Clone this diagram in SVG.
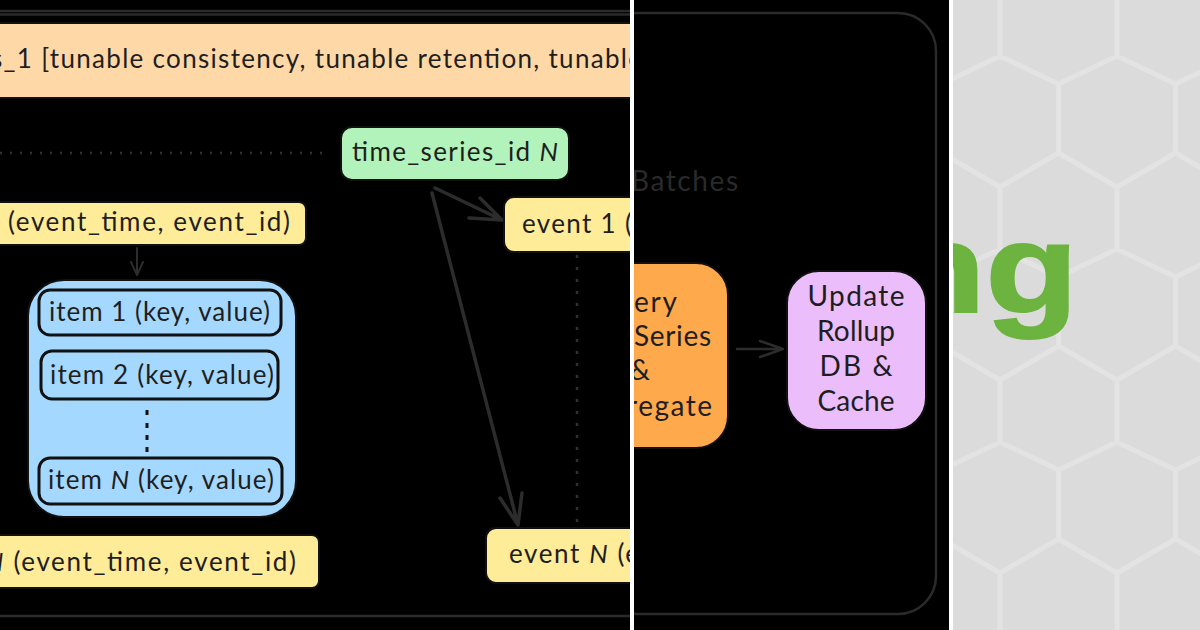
<svg xmlns="http://www.w3.org/2000/svg" width="1200" height="630" viewBox="0 0 1200 630">
<style>
text{font-family:"Lato","Noto Sans",sans-serif;fill:#1e1e1e;font-size:26px}
.n{stroke:#111;stroke-width:2;stroke-linejoin:round}
.b{stroke:#111;stroke-width:3;stroke-linejoin:round}
.c{fill:none;stroke:#2c2c2c;stroke-width:3.500;stroke-linecap:round;stroke-linejoin:round}
.d{fill:none;stroke:#303030;stroke-width:2.5}
.f{fill:none;stroke:#2a2a2a;stroke-width:2.5}
.i{font-style:italic}
.m{text-anchor:middle}
.l{font-size:28px}
</style>
<defs>
<pattern id="hex" width="117" height="193" patternUnits="userSpaceOnUse" patternTransform="translate(1000 56)">
<path d="M-10-5L0 0L58.500 28L117 0L127-5M58.500 28V97M-10 136L0 131L58.500 97L117 131L127 136M0 131V193M117 131V193M0 0V-5M117 0V-5" fill="none" stroke="#e3e3e3" stroke-width="5"/>
</pattern>
<clipPath id="cl"><rect x="0" y="0" width="630" height="630"/></clipPath>
<clipPath id="cr"><rect x="634" y="0" width="315" height="630"/></clipPath>
<clipPath id="cg"><rect x="953" y="0" width="247" height="630"/></clipPath>
</defs>
<rect width="1200" height="630" fill="#000"/>
<g id="backdrop" clip-path="url(#cg)">
<rect x="949" y="0" width="251" height="630" fill="#dbdbdb"/>
<rect x="949" y="0" width="251" height="630" fill="url(#hex)"/>
<text x="893" y="312" textLength="185" lengthAdjust="spacingAndGlyphs" style="font-family:'Liberation Sans',sans-serif;font-weight:700;font-size:126px;fill:#6cb33f;stroke:#6cb33f;stroke-width:2">ng</text>
</g>
<g id="frames">
<path class="f" d="M0 11H630M0 14.500H630M0 616H630"/>
<rect class="f" x="600" y="13" width="336" height="601" rx="38" clip-path="url(#cr)"/>
</g>
<g id="connectors">
<path class="d" stroke-dasharray="2 8" d="M0 153H330"/>
<path class="d" stroke-dasharray="3 9" d="M577 255V522"/>
<path class="c" d="M435 188L502 220M480 198L502 220L469 218"/>
<path class="c" d="M432 193L518 525M500 498L518 525L522 493"/>
<path class="c" style="stroke-width:2" d="M137 248V275M131 262L137 275L143 262"/>
<path class="c" style="stroke-width:2.500" d="M737 349H783M760 341L783 349L760 357"/>
</g>
<g clip-path="url(#cl)">
<g id="partition-header">
<rect class="n" x="-10" y="23" width="660" height="75" fill="#ffd8a8"/>
<text x="-9" y="68" textLength="651">s_1 [tunable consistency, tunable retention, tunable</text>
</g>
<g id="time-series-id-n">
<rect class="n" x="341" y="127" width="228" height="53" rx="11" fill="#b2f2bb"/>
<text x="352" y="161" textLength="206">time_series_id <tspan class="i">N</tspan></text>
</g>
<g id="event-top-left">
<rect class="n" x="-10" y="202" width="316" height="43" rx="7" fill="#ffec99"/>
<text x="8" y="231" textLength="282">(event_time, event_id)</text>
</g>
<g id="items">
<rect class="n" x="28" y="280" width="268" height="237" rx="36" fill="#a5d8ff"/>
</g>
<g id="item-1">
<rect class="b" x="39" y="290" width="242" height="45" rx="11" fill="#a5d8ff"/>
<text x="49" y="321" textLength="221">item 1 (key, value)</text>
</g>
<g id="item-2">
<rect class="b" x="41" y="351" width="237" height="48" rx="11" fill="#a5d8ff"/>
<text x="50" y="384" textLength="224">item 2 (key, value)</text>
</g>
<g id="item-dots">
<path d="M147 410V415M147 423V428M147 435V440M147 447V452" stroke="#111" stroke-width="3" fill="none"/>
</g>
<g id="item-n">
<rect class="b" x="39" y="458" width="243" height="46" rx="11" fill="#a5d8ff"/>
<text x="48" y="489" textLength="226">item <tspan class="i">N</tspan> (key, value)</text>
</g>
<g id="event-bottom-left">
<rect class="n" x="-10" y="535" width="329" height="53" rx="7" fill="#ffec99"/>
<text x="-15" y="571" textLength="311"><tspan class="i">N</tspan> (event_time, event_id)</text>
</g>
<g id="event-1">
<rect class="n" x="504" y="197" width="160" height="55" rx="10" fill="#ffec99"/>
<text x="522" y="233" textLength="110">event 1 (</text>
</g>
<g id="event-n">
<rect class="n" x="486" y="528" width="180" height="55" rx="10" fill="#ffec99"/>
<text x="509" y="563" textLength="130">event <tspan class="i">N</tspan> (e</text>
</g>
</g>
<g clip-path="url(#cr)">
<g id="batches-label">
<text class="l" x="631" y="191" textLength="107" style="fill:#2a2a2a">Batches</text>
</g>
<g id="query-node">
<rect class="n" x="590" y="263" width="138" height="185" rx="32" fill="#ffa94d"/>
<text class="l" x="634" y="312" textLength="43">ery</text>
<text class="l" x="634" y="346" textLength="77">Series</text>
<text class="l" x="630" y="380">&amp;</text>
<text class="l" x="627" y="416" textLength="85">regate</text>
</g>
<g id="update-rollup">
<rect class="n" x="787" y="271" width="139" height="159" rx="32" fill="#ebbdfa"/>
<text class="l m" x="856" y="306" textLength="97">Update</text>
<text class="l m" x="856" y="341" textLength="78">Rollup</text>
<text class="l m" x="856" y="376" textLength="73">DB &amp;</text>
<text class="l m" x="856" y="411" textLength="77">Cache</text>
</g>
</g>
<g id="dividers">
<rect x="630" y="0" width="4" height="630" fill="#fff"/>
<rect x="949" y="0" width="4" height="630" fill="#fff"/>
</g>
</svg>
